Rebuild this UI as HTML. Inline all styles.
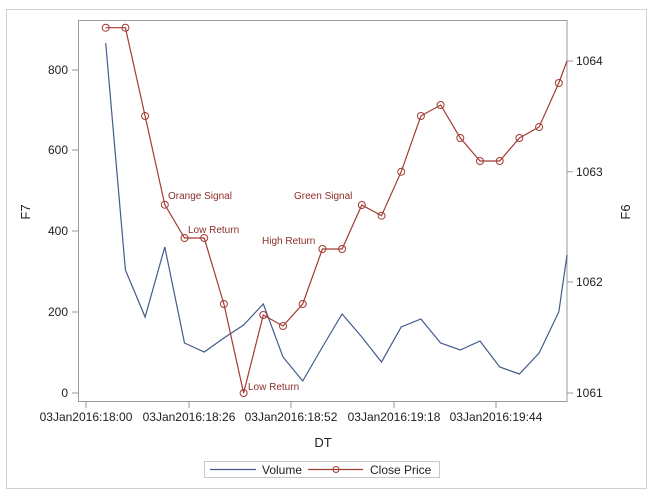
<!DOCTYPE html>
<html><head><meta charset="utf-8"><style>
html,body{margin:0;padding:0;background:#fff;}
svg{display:block;font-family:"Liberation Sans",Arial,sans-serif;}
</style></head><body>
<svg width="659" height="504" viewBox="0 0 659 504" xmlns="http://www.w3.org/2000/svg">
<rect x="6.5" y="9.5" width="640" height="479" fill="#fff" stroke="#d0d0d0"/>
<rect x="78.5" y="20.5" width="488.5" height="381" fill="#fff" stroke="#9a9a9a"/>
<g stroke="#9a9a9a">
<line x1="72" y1="70" x2="78" y2="70"/><line x1="72" y1="150" x2="78" y2="150"/><line x1="72" y1="231" x2="78" y2="231"/><line x1="72" y1="312" x2="78" y2="312"/><line x1="72" y1="393" x2="78" y2="393"/>
<line x1="567" y1="61" x2="573" y2="61"/><line x1="567" y1="171.7" x2="573" y2="171.7"/><line x1="567" y1="282" x2="573" y2="282"/><line x1="567" y1="393" x2="573" y2="393"/>
<line x1="86" y1="402" x2="86" y2="408"/><line x1="189" y1="402" x2="189" y2="408"/><line x1="291" y1="402" x2="291" y2="408"/><line x1="394" y1="402" x2="394" y2="408"/><line x1="496" y1="402" x2="496" y2="408"/>
</g>
<g font-size="12" fill="#222" text-anchor="end">
<text x="68" y="74">800</text><text x="68" y="154">600</text><text x="68" y="235">400</text><text x="68" y="316">200</text><text x="68" y="397">0</text>
</g>
<g font-size="12" fill="#222">
<text x="576" y="65">1064</text><text x="576" y="176">1063</text><text x="576" y="286">1062</text><text x="576" y="397">1061</text>
</g>
<g font-size="12" fill="#222" text-anchor="middle">
<text x="86" y="421">03Jan2016:18:00</text><text x="189" y="421">03Jan2016:18:26</text><text x="291" y="421">03Jan2016:18:52</text><text x="394" y="421">03Jan2016:19:18</text><text x="496" y="421">03Jan2016:19:44</text>
<text x="323" y="447" font-size="13">DT</text>
<text transform="translate(30,212) rotate(-90)" font-size="13">F7</text>
<text transform="translate(630,212) rotate(-90)" font-size="13">F6</text>
</g>
<polyline fill="none" stroke="#445b8c" stroke-width="1.2" points="105.7,43 125.4,270 145.1,317 164.8,247 184.5,343 204.2,352 223.9,338 243.6,325 263.3,304 283,357 302.7,381 322.4,347 342.1,314 361.8,337 381.5,362 401.2,327 420.9,319 440.6,343 460.3,350 480,341 499.7,367 519.4,374 539.1,353 558.8,312 567,255"/>
<polyline fill="none" stroke="#a23b32" stroke-width="1.2" points="105.7,27.7 125.4,27.7 145.1,116 164.8,204.7 184.5,238 204.2,238 223.9,304 243.6,393 263.3,315 283,326 302.7,304 322.4,249 342.1,249 361.8,205 381.5,215.7 401.2,171.7 420.9,116 440.6,105 460.3,138 480,161 499.7,161 519.4,138 539.1,127 558.8,83 567,61"/>
<g fill="none" stroke="#a23b32" stroke-width="1">
<circle cx="105.7" cy="27.7" r="3.5"/><circle cx="125.4" cy="27.7" r="3.5"/><circle cx="145.1" cy="116" r="3.5"/><circle cx="164.8" cy="204.7" r="3.5"/><circle cx="184.5" cy="238" r="3.5"/><circle cx="204.2" cy="238" r="3.5"/><circle cx="223.9" cy="304" r="3.5"/><circle cx="243.6" cy="393" r="3.5"/><circle cx="263.3" cy="315" r="3.5"/><circle cx="283" cy="326" r="3.5"/><circle cx="302.7" cy="304" r="3.5"/><circle cx="322.4" cy="249" r="3.5"/><circle cx="342.1" cy="249" r="3.5"/><circle cx="361.8" cy="205" r="3.5"/><circle cx="381.5" cy="215.7" r="3.5"/><circle cx="401.2" cy="171.7" r="3.5"/><circle cx="420.9" cy="116" r="3.5"/><circle cx="440.6" cy="105" r="3.5"/><circle cx="460.3" cy="138" r="3.5"/><circle cx="480" cy="161" r="3.5"/><circle cx="499.7" cy="161" r="3.5"/><circle cx="519.4" cy="138" r="3.5"/><circle cx="539.1" cy="127" r="3.5"/><circle cx="558.8" cy="83" r="3.5"/>
</g>
<g font-size="10" fill="#8b2e2a">
<text x="168" y="199">Orange Signal</text>
<text x="188" y="233">Low Return</text>
<text x="262" y="244">High Return</text>
<text x="294" y="199">Green Signal</text>
<text x="248" y="390">Low Return</text>
</g>
<rect x="204.5" y="461.5" width="235" height="16" fill="#fff" stroke="#c8c8c8"/>
<line x1="210" y1="469.5" x2="256" y2="469.5" stroke="#445b8c" stroke-width="1.2"/>
<line x1="308" y1="469.5" x2="363" y2="469.5" stroke="#a23b32" stroke-width="1.2"/>
<circle cx="336" cy="469.5" r="3" fill="none" stroke="#a23b32"/>
<g font-size="12" fill="#222"><text x="262" y="474">Volume</text><text x="370" y="474">Close Price</text></g>
</svg>
</body></html>
